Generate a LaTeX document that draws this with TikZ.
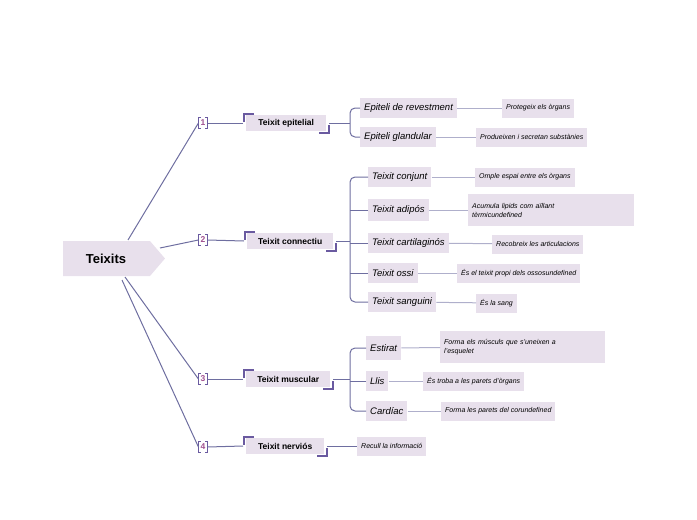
\documentclass[tikz,border=0pt]{standalone}
\usepackage{fontspec}
\setmainfont{Liberation Sans}
\definecolor{boxc}{HTML}{E8E0EC}
\definecolor{linec}{HTML}{6E6EA0}
\definecolor{brk}{HTML}{6A5AA0}
\definecolor{numc}{HTML}{A05090}
\begin{document}
\begin{tikzpicture}[x=1pt,y=-1pt,
  lk/.style={draw=linec,line width=1pt},
  lf/.style={draw=linec!55,line width=1pt},
  cat/.style={fill=boxc,font=\bfseries\fontsize{8.5}{10}\selectfont,inner sep=2pt,minimum height=16pt,anchor=west},
  ch/.style={fill=boxc,font=\itshape\fontsize{9.5}{11}\selectfont,inner sep=4pt,minimum height=20pt,anchor=west},
  lv/.style={fill=boxc,font=\itshape\fontsize{7}{9}\selectfont,inner sep=4pt,minimum height=19pt,anchor=west,align=left},
  num/.style={font=\bfseries\fontsize{8.5}{9}\selectfont,text=numc,inner sep=2pt}]
\useasboundingbox (0,0) rectangle (697,520);
% root
\fill[boxc] (63,241) -- (150,241) -- (165,258.5) -- (150,276) -- (63,276) -- cycle;
\node[font=\bfseries\fontsize{13}{15}\selectfont] (root) at (106,258.5) {Teixits};
% numbers
\foreach \n/\y in {1/123,2/240,3/379,4/447}{
  \node[num] (n\n) at (203,\y) {\n};
  \draw[brk,line width=1.1pt] ([xshift=2.5pt]n\n.north west) -| (n\n.south west) -- ++(2.5pt,0);
  \draw[brk,line width=1.1pt] ([xshift=-2.5pt]n\n.north east) -| (n\n.south east) -- ++(-2.5pt,0);
}
\draw[lk] (128,240) -- (n1.west);
\draw[lk] (160,248) -- (n2.west);
\draw[lk] (125,277) -- (n3.west);
\draw[lk] (122,280) -- (n4.west);
% categories
\node[cat,minimum width=80pt] (c1) at (246,123) {Teixit epitelial};
\node[cat,minimum width=86pt] (c2) at (247,241) {Teixit connectiu};
\node[cat,minimum width=84pt] (c3) at (246,379) {Teixit muscular};
\node[cat,minimum width=78pt] (c4) at (246,446) {Teixit nerviós};
\foreach \c in {c1,c2,c3,c4}{
  \draw[brk,line width=2pt] ([shift={(-2,-1)}]\c.north west) ++(10,0) -- ++(-10,0) -- ++(0,8);
  \draw[brk,line width=2pt] ([shift={(3,2)}]\c.south east) ++(-10,0) -- ++(10,0) -- ++(0,-8);
}
\foreach \i in {1,2,3,4}{\draw[lk] (n\i.east) -- ([xshift=-3pt]c\i.west);}
% epitelial
\node[ch] (e1) at (360,108) {Epiteli de revestment};
\node[ch] (e2) at (360,137) {Epiteli glandular};
\draw[lk] ([xshift=3pt]c1.east) -- (350,123);
\draw[lk,rounded corners=5pt] (e1.west) -- (350,108) -- (350,137) -- (e2.west);
\node[lv] (l1) at (502,108) {Protegeix els òrgans};
\node[lv] (l2) at (476,137) {Produeixen i secretan substànies};
\draw[lf] (e1) -- (l1); \draw[lf] (e2) -- (l2);
% connectiu
\node[ch] (k1) at (368,177) {Teixit conjunt};
\node[ch,minimum height=22pt] (k2) at (368,210) {Teixit adipós};
\node[ch] (k3) at (368,243) {Teixit cartilaginós};
\node[ch] (k4) at (368,273) {Teixit ossi};
\node[ch] (k5) at (368,302) {Teixit sanguini};
\draw[lk] ([xshift=3pt]c2.east) -- (350,241);
\draw[lk,rounded corners=5pt] (k1.west) -- (350,177) -- (350,302) -- (k5.west);
\draw[lk] (k2.west) -- (350,210); \draw[lk] (k3.west) -- (350,243); \draw[lk] (k4.west) -- (350,273);
\node[lv] (m1) at (475,177) {Omple espai entre els òrgans};
\node[lv,minimum height=32pt,text width=158pt] (m2) at (468,210) {Acumula lipids com aïllant\\tèrmicundefined};
\node[lv] (m3) at (492,244) {Recobreix les articulacions};
\node[lv] (m4) at (457,273) {És el teixit propi dels ossosundefined};
\node[lv] (m5) at (476,303) {És la sang};
\foreach \i in {1,...,5}{\draw[lf] (k\i) -- (m\i);}
% muscular
\node[ch,minimum height=24pt] (s1) at (366,348) {Estirat};
\node[ch] (s2) at (366,381) {Llis};
\node[ch] (s3) at (366,411) {Cardíac};
\draw[lk] ([xshift=3pt]c3.east) -- (350,379);
\draw[lk,rounded corners=5pt] (s1.west) -- (350,348) -- (350,411) -- (s3.west);
\draw[lk] (s2.west) -- (350,381);
\node[lv,minimum height=32pt,text width=157pt] (t1) at (440,347) {Forma els músculs que s'uneixen a\\l'esquelet};
\node[lv] (t2) at (423,381) {És troba a les parets d'òrgans};
\node[lv] (t3) at (441,411) {Forma les parets del corundefined};
\foreach \i in {1,2,3}{\draw[lf] (s\i) -- (t\i);}
% nervios
\node[lv] (r1) at (357,446) {Recull la informació};
\draw[lk] ([xshift=3pt]c4.east) -- (r1.west);
\end{tikzpicture}
\end{document}
